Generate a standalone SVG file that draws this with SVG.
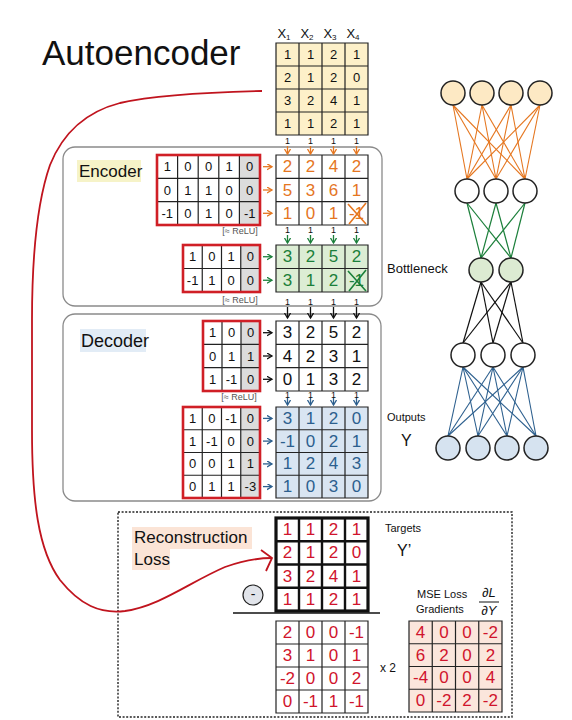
<svg xmlns="http://www.w3.org/2000/svg" width="572" height="720" viewBox="0 0 572 720">
<style>
text{font-family:"Liberation Sans","DejaVu Sans",sans-serif}
.c{text-anchor:middle;dominant-baseline:central}
.w{font-size:13px;fill:#111}
.hw{font-size:17px}
.or{fill:#e5761f}
.gr{fill:#1b7f3a}
.bk{fill:#111}
.bl{fill:#2c5f8e}
.rd{fill:#d0142c}
.one{font-size:9px;fill:#111}
.relu{font-size:9px;fill:#555}
.lbl{font-size:12px;fill:#111}
.grid{stroke:#222;stroke-width:1.2;fill:none}
.wb{stroke:#d01f26;stroke-width:2.6;fill:none}
.gray{fill:#dcdcdc}
.box{fill:none;stroke:#8a8a8a;stroke-width:1.3}
.nn{stroke:#222;stroke-width:1.5}
</style>
<defs>
<marker id="ao" markerUnits="userSpaceOnUse" markerWidth="8" markerHeight="8" refX="5" refY="3" orient="auto"><path d="M0,0 L5,3 L0,6" fill="none" stroke="#e5761f" stroke-width="1.3"/></marker>
<marker id="ag" markerUnits="userSpaceOnUse" markerWidth="8" markerHeight="8" refX="5" refY="3" orient="auto"><path d="M0,0 L5,3 L0,6" fill="none" stroke="#1b7f3a" stroke-width="1.3"/></marker>
<marker id="ak" markerUnits="userSpaceOnUse" markerWidth="8" markerHeight="8" refX="5" refY="3" orient="auto"><path d="M0,0 L5,3 L0,6" fill="none" stroke="#111" stroke-width="1.3"/></marker>
<marker id="ab" markerUnits="userSpaceOnUse" markerWidth="8" markerHeight="8" refX="5" refY="3" orient="auto"><path d="M0,0 L5,3 L0,6" fill="none" stroke="#2c5f8e" stroke-width="1.3"/></marker>
</defs>
<rect width="572" height="720" fill="#fff"/>

<g id="title"><text x="42" y="65" font-size="35" fill="#111">Autoencoder</text></g>

<g id="encoder-box"><rect class="box" x="63" y="147" width="319" height="159" rx="12"/>
<rect x="77" y="160" width="64" height="22" fill="#f6f3c8"/><text x="79" y="177" font-size="17" fill="#111">Encoder</text></g>
<g id="decoder-box"><rect class="box" x="63" y="314" width="318" height="187" rx="12"/>
<rect x="80" y="329" width="66" height="23" fill="#e2ecf6"/><text x="81" y="347" font-size="18" fill="#111">Decoder</text></g>
<g id="loss-box"><rect x="118" y="512" width="394" height="205" fill="none" stroke="#222" stroke-width="1.4" stroke-dasharray="2 1.6"/>
<rect x="132" y="527" width="120" height="22" fill="#fbe4d6"/><rect x="132" y="549" width="38" height="21" fill="#fbe4d6"/>
<text x="134" y="543" font-size="17" fill="#111">Reconstruction</text><text x="134" y="565" font-size="17" fill="#111">Loss</text></g>

<g id="input">
<text x="284" y="33" class="c" font-size="13" fill="#111">X<tspan font-size="8" dy="4">1</tspan></text><text x="307" y="33" class="c" font-size="13" fill="#111">X<tspan font-size="8" dy="4">2</tspan></text><text x="330" y="33" class="c" font-size="13" fill="#111">X<tspan font-size="8" dy="4">3</tspan></text><text x="353" y="33" class="c" font-size="13" fill="#111">X<tspan font-size="8" dy="4">4</tspan></text>
<rect x="276" y="43" width="92" height="92" fill="#fdf0c9"/>
<path class="grid" d="M276,43h92v92h-92z M299,43v92 M322,43v92 M345,43v92 M276,66h92 M276,89h92 M276,112h92"/>
<g class="c w" font-size="14">
<text x="287.5" y="54.5">1</text><text x="310.5" y="54.5">1</text><text x="333.5" y="54.5">2</text><text x="356.5" y="54.5">1</text>
<text x="287.5" y="77.5">2</text><text x="310.5" y="77.5">1</text><text x="333.5" y="77.5">2</text><text x="356.5" y="77.5">0</text>
<text x="287.5" y="100.5">3</text><text x="310.5" y="100.5">2</text><text x="333.5" y="100.5">4</text><text x="356.5" y="100.5">1</text>
<text x="287.5" y="123.5">1</text><text x="310.5" y="123.5">1</text><text x="333.5" y="123.5">2</text><text x="356.5" y="123.5">1</text>
</g></g>

<g id="enc-w1">
<rect class="gray" x="239.4" y="155" width="20.6" height="70"/>
<path class="grid" d="M177.6,155v70 M198.2,155v70 M218.8,155v70 M239.4,155v70 M157,178.3h103 M157,201.7h103"/>
<rect class="wb" x="157" y="155" width="103" height="70"/>
<g class="c w">
<text x="167.3" y="166.7">1</text><text x="187.9" y="166.7">0</text><text x="208.5" y="166.7">0</text><text x="229.1" y="166.7">1</text><text x="249.7" y="166.7">0</text>
<text x="167.3" y="190">0</text><text x="187.9" y="190">1</text><text x="208.5" y="190">1</text><text x="229.1" y="190">0</text><text x="249.7" y="190">0</text>
<text x="167.3" y="213.3">-1</text><text x="187.9" y="213.3">0</text><text x="208.5" y="213.3">1</text><text x="229.1" y="213.3">0</text><text x="249.7" y="213.3">-1</text>
</g></g>

<g id="hidden1">
<g class="c one"><text x="287.5" y="141">1</text><text x="310.5" y="141">1</text><text x="333.5" y="141">1</text><text x="356.5" y="141">1</text></g>
<rect x="276" y="155" width="92" height="70" fill="#fff"/>
<path class="grid" d="M276,155h92v70h-92z M299,155v70 M322,155v70 M345,155v70 M276,178.3h92 M276,201.7h92"/>
<g class="c hw or">
<text x="287.5" y="166.7">2</text><text x="310.5" y="166.7">2</text><text x="333.5" y="166.7">4</text><text x="356.5" y="166.7">2</text>
<text x="287.5" y="190">5</text><text x="310.5" y="190">3</text><text x="333.5" y="190">6</text><text x="356.5" y="190">1</text>
<text x="287.5" y="213.3">1</text><text x="310.5" y="213.3">0</text><text x="333.5" y="213.3">1</text><text x="356.5" y="213.3">-1</text>
</g>
<path d="M348,204 L366,224 M366,203 L349,224" stroke="#e5761f" stroke-width="1.6" fill="none"/>
<text class="c relu" x="240" y="231">[≈ ReLU]</text>
</g>

<g id="enc-w2">
<rect class="gray" x="240.75" y="245" width="19.25" height="47"/>
<path class="grid" d="M202.25,245v47 M221.5,245v47 M240.75,245v47 M183,268.5h77"/>
<rect class="wb" x="183" y="245" width="77" height="47"/>
<g class="c w">
<text x="192.6" y="256.75">1</text><text x="211.9" y="256.75">0</text><text x="231.1" y="256.75">1</text><text x="250.4" y="256.75">0</text>
<text x="192.6" y="280.25">-1</text><text x="211.9" y="280.25">1</text><text x="231.1" y="280.25">0</text><text x="250.4" y="280.25">0</text>
</g></g>

<g id="bottleneck">
<g class="c one"><text x="287.5" y="230">1</text><text x="310.5" y="230">1</text><text x="333.5" y="230">1</text><text x="356.5" y="230">1</text></g>
<rect x="276" y="245" width="92" height="47" fill="#dcedd4"/>
<path class="grid" d="M276,245h92v47h-92z M299,245v47 M322,245v47 M345,245v47 M276,268.5h92"/>
<g class="c hw gr">
<text x="287.5" y="256.75">3</text><text x="310.5" y="256.75">2</text><text x="333.5" y="256.75">5</text><text x="356.5" y="256.75">2</text>
<text x="287.5" y="280.25">3</text><text x="310.5" y="280.25">1</text><text x="333.5" y="280.25">2</text><text x="356.5" y="280.25">-1</text>
</g>
<path d="M348,271 L366,291 M366,270 L349,291" stroke="#1b7f3a" stroke-width="1.6" fill="none"/>
<text class="c relu" x="240" y="300">[≈ ReLU]</text>
<text x="387" y="273" font-size="13" fill="#111">Bottleneck</text>
</g>

<g id="dec-w1">
<rect class="gray" x="241" y="321" width="19" height="70"/>
<path class="grid" d="M222,321v70 M241,321v70 M203,344.3h57 M203,367.7h57"/>
<rect class="wb" x="203" y="321" width="57" height="70"/>
<g class="c w">
<text x="212.5" y="332.7">1</text><text x="231.5" y="332.7">0</text><text x="250.5" y="332.7">0</text>
<text x="212.5" y="356">0</text><text x="231.5" y="356">1</text><text x="250.5" y="356">1</text>
<text x="212.5" y="379.3">1</text><text x="231.5" y="379.3">-1</text><text x="250.5" y="379.3">0</text>
</g></g>

<g id="hidden2">
<g class="c one"><text x="287.5" y="302">1</text><text x="310.5" y="302">1</text><text x="333.5" y="302">1</text><text x="356.5" y="302">1</text></g>
<rect x="276" y="321" width="92" height="70" fill="#fff"/>
<path class="grid" d="M276,321h92v70h-92z M299,321v70 M322,321v70 M345,321v70 M276,344.3h92 M276,367.7h92"/>
<g class="c hw bk">
<text x="287.5" y="332.7">3</text><text x="310.5" y="332.7">2</text><text x="333.5" y="332.7">5</text><text x="356.5" y="332.7">2</text>
<text x="287.5" y="356">4</text><text x="310.5" y="356">2</text><text x="333.5" y="356">3</text><text x="356.5" y="356">1</text>
<text x="287.5" y="379.3">0</text><text x="310.5" y="379.3">1</text><text x="333.5" y="379.3">3</text><text x="356.5" y="379.3">2</text>
</g>
<text class="c relu" x="239" y="397">[≈ ReLU]</text>
</g>

<g id="dec-w2">
<rect class="gray" x="240.75" y="407" width="19.25" height="91"/>
<path class="grid" d="M202.25,407v91 M221.5,407v91 M240.75,407v91 M183,429.75h77 M183,452.5h77 M183,475.25h77"/>
<rect class="wb" x="183" y="407" width="77" height="91"/>
<g class="c w">
<text x="192.6" y="418.4">1</text><text x="211.9" y="418.4">0</text><text x="231.1" y="418.4">-1</text><text x="250.4" y="418.4">0</text>
<text x="192.6" y="441.1">1</text><text x="211.9" y="441.1">-1</text><text x="231.1" y="441.1">0</text><text x="250.4" y="441.1">0</text>
<text x="192.6" y="463.9">0</text><text x="211.9" y="463.9">0</text><text x="231.1" y="463.9">1</text><text x="250.4" y="463.9">1</text>
<text x="192.6" y="486.6">0</text><text x="211.9" y="486.6">1</text><text x="231.1" y="486.6">1</text><text x="250.4" y="486.6">-3</text>
</g></g>

<g id="outputs">
<g class="c one"><text x="287.5" y="395">1</text><text x="310.5" y="395">1</text><text x="333.5" y="395">1</text><text x="356.5" y="395">1</text></g>
<rect x="276" y="407" width="92" height="91" fill="#d9e5f2"/>
<path class="grid" d="M276,407h92v91h-92z M299,407v91 M322,407v91 M345,407v91 M276,429.75h92 M276,452.5h92 M276,475.25h92"/>
<g class="c hw bl" font-size="16">
<text x="287.5" y="418.4">3</text><text x="310.5" y="418.4">1</text><text x="333.5" y="418.4">2</text><text x="356.5" y="418.4">0</text>
<text x="287.5" y="441.1">-1</text><text x="310.5" y="441.1">0</text><text x="333.5" y="441.1">2</text><text x="356.5" y="441.1">1</text>
<text x="287.5" y="463.9">1</text><text x="310.5" y="463.9">2</text><text x="333.5" y="463.9">4</text><text x="356.5" y="463.9">3</text>
<text x="287.5" y="486.6">1</text><text x="310.5" y="486.6">0</text><text x="333.5" y="486.6">3</text><text x="356.5" y="486.6">0</text>
</g>
<text x="387" y="421" font-size="11" fill="#111">Outputs</text>
<text x="401" y="446" font-size="16" fill="#111">Y</text>
</g>

<g id="targets">
<rect x="276" y="518" width="92" height="93" fill="#fff"/>
<path d="M299,518v93 M322,518v93 M345,518v93 M276,541.25h92 M276,564.5h92 M276,587.75h92" stroke="#111" stroke-width="2.4"/>
<rect x="276" y="518" width="92" height="93" fill="none" stroke="#111" stroke-width="3.2"/>
<g class="c hw rd">
<text x="287.5" y="529.6">1</text><text x="310.5" y="529.6">1</text><text x="333.5" y="529.6">2</text><text x="356.5" y="529.6">1</text>
<text x="287.5" y="552.9">2</text><text x="310.5" y="552.9">1</text><text x="333.5" y="552.9">2</text><text x="356.5" y="552.9">0</text>
<text x="287.5" y="576.1">3</text><text x="310.5" y="576.1">2</text><text x="333.5" y="576.1">4</text><text x="356.5" y="576.1">1</text>
<text x="287.5" y="599.4">1</text><text x="310.5" y="599.4">1</text><text x="333.5" y="599.4">2</text><text x="356.5" y="599.4">1</text>
</g>
<text x="385" y="532" font-size="11" fill="#111">Targets</text>
<text x="397" y="556" font-size="16" fill="#111">Y’</text>
</g>

<g id="minus"><circle cx="253" cy="595" r="10" fill="#e1e4ea" stroke="#222" stroke-width="1.2"/><text class="c" x="253" y="594" font-size="14" fill="#111">-</text>
<line x1="233" y1="613" x2="380" y2="613" stroke="#111" stroke-width="1.6"/></g>

<g id="difference">
<path class="grid" d="M276,621h92v92h-92z M299,621v92 M322,621v92 M345,621v92 M276,644h92 M276,667h92 M276,690h92"/>
<g class="c hw rd" font-size="16">
<text x="287.5" y="632.5">2</text><text x="310.5" y="632.5">0</text><text x="333.5" y="632.5">0</text><text x="356.5" y="632.5">-1</text>
<text x="287.5" y="655.5">3</text><text x="310.5" y="655.5">1</text><text x="333.5" y="655.5">0</text><text x="356.5" y="655.5">1</text>
<text x="287.5" y="678.5">-2</text><text x="310.5" y="678.5">0</text><text x="333.5" y="678.5">0</text><text x="356.5" y="678.5">2</text>
<text x="287.5" y="701.5">0</text><text x="310.5" y="701.5">-1</text><text x="333.5" y="701.5">1</text><text x="356.5" y="701.5">-1</text>
</g>
<text x="380" y="672" font-size="12" fill="#111">x 2</text>
</g>

<g id="mse">
<text x="417" y="598" font-size="11" fill="#111">MSE Loss</text>
<text x="416" y="613" font-size="11" fill="#111">Gradients</text>
<text x="489" y="597" font-size="13" font-style="italic" font-family="Liberation Serif, serif" text-anchor="middle" fill="#111">∂L</text>
<line x1="479" y1="602" x2="499" y2="602" stroke="#111" stroke-width="1"/>
<text x="489" y="615" font-size="13" font-style="italic" font-family="Liberation Serif, serif" text-anchor="middle" fill="#111">∂Y</text>
<rect x="409" y="621" width="93" height="91" fill="#fbe6dc"/>
<path class="grid" d="M409,621h93v91h-93z M432.25,621v91 M455.5,621v91 M478.75,621v91 M409,643.75h93 M409,666.5h93 M409,689.25h93"/>
<g class="c hw rd" font-size="16">
<text x="420.6" y="632.4">4</text><text x="443.9" y="632.4">0</text><text x="467.1" y="632.4">0</text><text x="490.4" y="632.4">-2</text>
<text x="420.6" y="655.1">6</text><text x="443.9" y="655.1">2</text><text x="467.1" y="655.1">0</text><text x="490.4" y="655.1">2</text>
<text x="420.6" y="677.9">-4</text><text x="443.9" y="677.9">0</text><text x="467.1" y="677.9">0</text><text x="490.4" y="677.9">4</text>
<text x="420.6" y="700.6">0</text><text x="443.9" y="700.6">-2</text><text x="467.1" y="700.6">2</text><text x="490.4" y="700.6">-2</text>
</g></g>

<g id="connectors" fill="none" stroke-width="1.3">
<g stroke="#e5761f" marker-end="url(#ao)">
<line x1="287.5" y1="146" x2="287.5" y2="154"/><line x1="310.5" y1="146" x2="310.5" y2="154"/><line x1="333.5" y1="146" x2="333.5" y2="154"/><line x1="356.5" y1="146" x2="356.5" y2="154"/>
<line x1="263" y1="166.7" x2="272" y2="166.7"/><line x1="263" y1="190" x2="272" y2="190"/><line x1="263" y1="213.3" x2="272" y2="213.3"/>
</g>
<g stroke="#1b7f3a" marker-end="url(#ag)">
<line x1="287.5" y1="235" x2="287.5" y2="243"/><line x1="310.5" y1="235" x2="310.5" y2="243"/><line x1="333.5" y1="235" x2="333.5" y2="243"/><line x1="356.5" y1="235" x2="356.5" y2="243"/>
<line x1="263" y1="256.75" x2="272" y2="256.75"/><line x1="263" y1="280.25" x2="272" y2="280.25"/>
</g>
<g stroke="#111" marker-end="url(#ak)">
<line x1="287.5" y1="307" x2="287.5" y2="318"/><line x1="310.5" y1="307" x2="310.5" y2="318"/><line x1="333.5" y1="307" x2="333.5" y2="318"/><line x1="356.5" y1="307" x2="356.5" y2="318"/>
<line x1="263" y1="332.7" x2="272" y2="332.7"/><line x1="263" y1="356" x2="272" y2="356"/><line x1="263" y1="379.3" x2="272" y2="379.3"/>
</g>
<g stroke="#2c5f8e" marker-end="url(#ab)">
<line x1="287.5" y1="398" x2="287.5" y2="405"/><line x1="310.5" y1="398" x2="310.5" y2="405"/><line x1="333.5" y1="398" x2="333.5" y2="405"/><line x1="356.5" y1="398" x2="356.5" y2="405"/>
<line x1="263" y1="418.4" x2="272" y2="418.4"/><line x1="263" y1="441.1" x2="272" y2="441.1"/><line x1="263" y1="463.9" x2="272" y2="463.9"/><line x1="263" y1="486.6" x2="272" y2="486.6"/>
</g>
<g stroke="#e5761f" stroke-width="1.1">
<line x1="453" y1="105" x2="467" y2="179"/><line x1="453" y1="105" x2="496" y2="179"/><line x1="453" y1="105" x2="525" y2="179"/>
<line x1="482" y1="105" x2="467" y2="179"/><line x1="482" y1="105" x2="496" y2="179"/><line x1="482" y1="105" x2="525" y2="179"/>
<line x1="511" y1="105" x2="467" y2="179"/><line x1="511" y1="105" x2="496" y2="179"/><line x1="511" y1="105" x2="525" y2="179"/>
<line x1="540" y1="105" x2="467" y2="179"/><line x1="540" y1="105" x2="496" y2="179"/><line x1="540" y1="105" x2="525" y2="179"/>
</g>
<g stroke="#1b7f3a" stroke-width="1.2">
<line x1="467" y1="203" x2="481" y2="258"/><line x1="467" y1="203" x2="511" y2="258"/>
<line x1="496" y1="203" x2="481" y2="258"/><line x1="496" y1="203" x2="511" y2="258"/>
<line x1="525" y1="203" x2="481" y2="258"/><line x1="525" y1="203" x2="511" y2="258"/>
</g>
<g stroke="#111" stroke-width="1.2">
<line x1="481" y1="282" x2="463" y2="343"/><line x1="481" y1="282" x2="493" y2="343"/><line x1="481" y1="282" x2="523" y2="343"/>
<line x1="511" y1="282" x2="463" y2="343"/><line x1="511" y1="282" x2="493" y2="343"/><line x1="511" y1="282" x2="523" y2="343"/>
</g>
<g stroke="#2c5f8e" stroke-width="1.1">
<line x1="463" y1="367" x2="448" y2="436"/><line x1="463" y1="367" x2="478" y2="436"/><line x1="463" y1="367" x2="507" y2="436"/><line x1="463" y1="367" x2="536" y2="436"/>
<line x1="493" y1="367" x2="448" y2="436"/><line x1="493" y1="367" x2="478" y2="436"/><line x1="493" y1="367" x2="507" y2="436"/><line x1="493" y1="367" x2="536" y2="436"/>
<line x1="523" y1="367" x2="448" y2="436"/><line x1="523" y1="367" x2="478" y2="436"/><line x1="523" y1="367" x2="507" y2="436"/><line x1="523" y1="367" x2="536" y2="436"/>
</g>
<path d="M262,91 C220,92 160,94 120,103 C85,112 62,135 50,165 C36,205 32,260 32,320 L32,430 C32,500 38,550 60,580 C80,605 100,614 125,611 C160,606 190,582 225,567 C245,560 260,558 272,558" stroke="#c0141e" stroke-width="1.8"/>
<path d="M261,550 L272,558 L266,571" stroke="#c0141e" stroke-width="1.8"/>
</g>

<g id="nn-input"><circle class="nn" cx="453" cy="93" r="12" fill="#fde9c4"/><circle class="nn" cx="482" cy="93" r="12" fill="#fde9c4"/><circle class="nn" cx="511" cy="93" r="12" fill="#fde9c4"/><circle class="nn" cx="540" cy="93" r="12" fill="#fde9c4"/></g>
<g id="nn-hidden1"><circle class="nn" cx="467" cy="191" r="12" fill="#fff"/><circle class="nn" cx="496" cy="191" r="12" fill="#fff"/><circle class="nn" cx="525" cy="191" r="12" fill="#fff"/></g>
<g id="nn-bottleneck"><circle class="nn" cx="481" cy="270" r="12" fill="#dcebd2"/><circle class="nn" cx="511" cy="270" r="12" fill="#dcebd2"/></g>
<g id="nn-hidden2"><circle class="nn" cx="463" cy="355" r="12" fill="#fff"/><circle class="nn" cx="493" cy="355" r="12" fill="#fff"/><circle class="nn" cx="523" cy="355" r="12" fill="#fff"/></g>
<g id="nn-output"><circle class="nn" cx="448" cy="448" r="12" fill="#d6e3f0"/><circle class="nn" cx="478" cy="448" r="12" fill="#d6e3f0"/><circle class="nn" cx="507" cy="448" r="12" fill="#d6e3f0"/><circle class="nn" cx="536" cy="448" r="12" fill="#d6e3f0"/></g>
</svg>
